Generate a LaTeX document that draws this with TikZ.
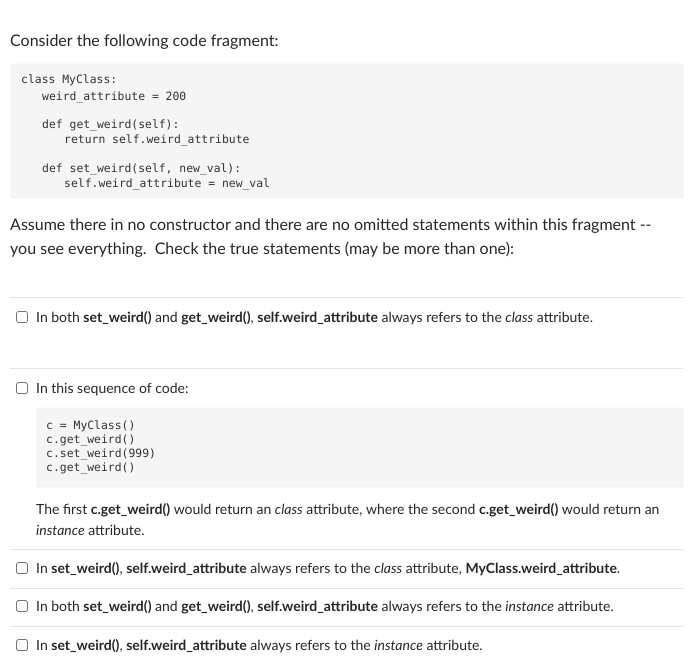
\documentclass[tikz,border=0pt]{standalone}
\usepackage{fontspec}
\setmainfont{Lato}
\newfontfamily\codefont{DejaVu Sans Mono}[Scale=0.95]
\begin{document}
\begin{tikzpicture}[x=1pt,y=-1pt,
  txt/.style={anchor=base west,inner sep=0pt,font=\fontsize{14}{17}\selectfont,text=black!85},
  big/.style={anchor=base west,inner sep=0pt,font=\fontsize{16}{19}\selectfont,text=black!85},
  code/.style={anchor=base west,inner sep=0pt,font=\codefont\fontsize{12}{14}\selectfont,text=black!80},
  codebox/.style={fill=black!4,draw=black!13,rounded corners=3pt},
  sep/.style={draw=black!10,line width=0.8pt},
  cb/.style={draw=black!55,rounded corners=1.5pt,minimum size=11pt,inner sep=0pt,line width=0.7pt}]
\useasboundingbox (0,0) rectangle (700,666);
\node[big] (t1) at (10,47) {Consider the following code fragment:};
\draw[codebox] (11,64) rectangle (683,198);
\node[code] (c1) at (21,84) {class MyClass:};
\node[code] (c2) at (42,100) {weird\_attribute = 200};
\node[code] (c3) at (42,128) {def get\_weird(self):};
\node[code] (c4) at (64,143) {return self.weird\_attribute};
\node[code] (c5) at (42,172) {def set\_weird(self, new\_val):};
\node[code] (c6) at (64,187) {self.weird\_attribute = new\_val};
\node[big] (t2) at (10,230) {Assume there in no constructor and there are no omitted statements within this fragment -{}-};
\node[big] (t3) at (10,254) {you see everything.\ \ Check the true statements (may be more than one):};
\foreach \y in {297,368,549,588,626} \draw[sep] (10,\y) -- (683,\y);
\node[cb] (k1) at (22,317) {};
\node[txt] (o1) at (36,322) {In both \textbf{set\_weird()} and \textbf{get\_weird()}, \textbf{self.weird\_attribute} always refers to the \textit{class} attribute.};
\node[cb] (k2) at (22,388) {};
\node[txt] (o2) at (36,393) {In this sequence of code:};
\draw[codebox] (37,408) rectangle (683,487);
\node[code] (d1) at (46,429) {c = MyClass()};
\node[code] (d2) at (46,443) {c.get\_weird()};
\node[code] (d3) at (46,457) {c.set\_weird(999)};
\node[code] (d4) at (46,471) {c.get\_weird()};
\node[txt] (o2b) at (36,514) {The first \textbf{c.get\_weird()} would return an \textit{class} attribute, where the second \textbf{c.get\_weird()} would return an};
\node[txt] (o2c) at (36,535) {\textit{instance} attribute.};
\node[cb] (k3) at (22,568) {};
\node[txt] (o3) at (36,573) {In \textbf{set\_weird()}, \textbf{self.weird\_attribute} always refers to the \textit{class} attribute, \textbf{MyClass.weird\_attribute}.};
\node[cb] (k4) at (22,606) {};
\node[txt] (o4) at (36,611) {In both \textbf{set\_weird()} and \textbf{get\_weird()}, \textbf{self.weird\_attribute} always refers to the \textit{instance} attribute.};
\node[cb] (k5) at (22,645) {};
\node[txt] (o5) at (36,650) {In \textbf{set\_weird()}, \textbf{self.weird\_attribute} always refers to the \textit{instance} attribute.};
\end{tikzpicture}
\end{document}
